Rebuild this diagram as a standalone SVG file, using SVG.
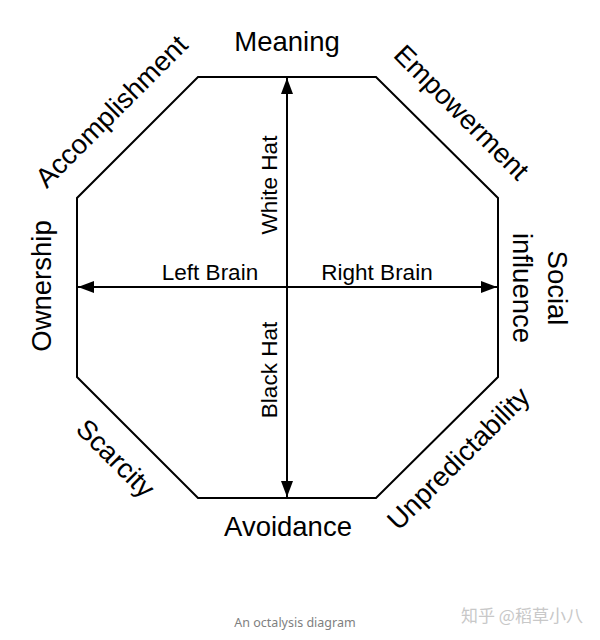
<svg xmlns="http://www.w3.org/2000/svg" width="600" height="640" viewBox="0 0 600 640">
<style>
.lbl{font-family:"Liberation Sans",Arial,sans-serif;font-size:27.5px;fill:#000;text-anchor:middle}
.ax{font-family:"Liberation Sans",Arial,sans-serif;font-size:22.5px;fill:#000;text-anchor:middle}
.edge{fill:none;stroke:#000;stroke-width:2}
.conn{fill:none;stroke:#000;stroke-width:2}
.cap{font-family:"Noto Sans","Open Sans",sans-serif;font-size:12.5px;fill:#808080;text-anchor:middle}
.wm{font-family:"Noto Sans CJK SC","Noto Sans",sans-serif;font-size:17px;fill:#c8c8c8;text-anchor:middle}
</style>
<defs>
<marker id="ah" viewBox="0 0 16 12" refX="16" refY="6" markerWidth="16" markerHeight="12" markerUnits="userSpaceOnUse" orient="auto">
<path d="M0,0 L16,6 L0,12 Z" fill="#000"/>
</marker>
</defs>
<rect width="600" height="640" fill="#fff"/>
<g id="octagon">
<polygon class="edge" points="198,77 376,77 498,198 498,377 376,498 198,498 77,377 77,198"/>
</g>
<g id="connectors">
<line class="conn" x1="287" y1="287" x2="287" y2="78" marker-end="url(#ah)"/>
<line class="conn" x1="287" y1="287" x2="287" y2="497" marker-end="url(#ah)"/>
<line class="conn" x1="287" y1="287" x2="78" y2="287" marker-end="url(#ah)"/>
<line class="conn" x1="287" y1="287" x2="497" y2="287" marker-end="url(#ah)"/>
</g>
<g id="axis-labels">
<text class="ax" x="210" y="280">Left Brain</text>
<text class="ax" x="377" y="280">Right Brain</text>
<text class="ax" transform="translate(277,185) rotate(-90)">White Hat</text>
<text class="ax" transform="translate(277,370) rotate(-90)">Black Hat</text>
</g>
<g id="meaning"><text class="lbl" x="287" y="51">Meaning</text></g>
<g id="avoidance"><text class="lbl" x="288" y="536">Avoidance</text></g>
<g id="accomplishment"><text class="lbl" transform="translate(118,118) rotate(-45)">Accomplishment</text></g>
<g id="empowerment"><text class="lbl" transform="translate(455,119) rotate(45)">Empowerment</text></g>
<g id="ownership"><text class="lbl" transform="translate(51,286) rotate(-90)">Ownership</text></g>
<g id="social-influence">
<text class="lbl" transform="translate(548,288) rotate(90)">Social</text>
<text class="lbl" transform="translate(513,288) rotate(90)">influence</text>
</g>
<g id="scarcity"><text class="lbl" transform="translate(109,465) rotate(45)">Scarcity</text></g>
<g id="unpredictability"><text class="lbl" transform="translate(465,465) rotate(-45)">Unpredictability</text></g>
<text class="cap" x="295" y="627">An octalysis diagram</text>
<text class="wm" x="522" y="622">知乎 @稻草小八</text>
</svg>
